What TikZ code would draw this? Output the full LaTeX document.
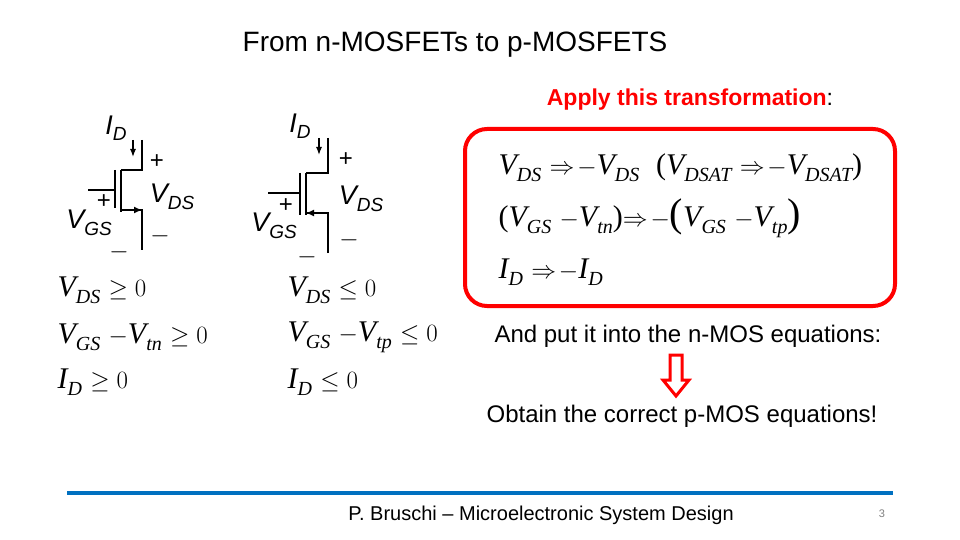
\documentclass[tikz,border=0pt]{standalone}
\usepackage{fontspec}
\setmainfont{Liberation Sans}
\newfontfamily\tms{Liberation Serif}
\usetikzlibrary{arrows.meta}
\definecolor{bl}{RGB}{0,112,192}
\newcommand\vv[2]{{\tms\itshape #1}\raisebox{-.45ex}{\tms\itshape\fontsize{20}{20}\selectfont #2}}
\newcommand\sv[2]{{\itshape #1}\raisebox{-.45ex}{\itshape\fontsize{19}{19}\selectfont #2}}
\begin{document}
\begin{tikzpicture}[x=1pt,y=-1pt,
  wire/.style={line width=1.3pt},
  eq/.style={anchor=west,font=\fontsize{30}{30}\selectfont},
  lab/.style={font=\fontsize{27}{27}\selectfont},
  sg/.style={font=\fontsize{24}{24}\selectfont}]
\useasboundingbox (0,0) rectangle (960,540);
\node[font=\fontsize{28}{28}\selectfont] (title) at (455,45) {From n-MOSFETs to p-MOSFETS};
% left nMOS
\draw[wire] (88,190) -- (115,190);
\draw[wire] (115,170) -- (115,208);
\draw[wire] (121,170) -- (121,212);
\draw[wire] (142,140) -- (142,170) -- (121,170);
\draw[wire] (121,210) -- (142,210) -- (142,250);
\draw[-{Latex[length=8pt,width=7pt]},line width=1.3pt] (121,210) -- (142,210);
\draw[-{Latex[length=8pt,width=6pt]},wire] (133,140) -- (133,157);
\node[lab] (id1) at (116,128) {\sv{I}{D}};
\node[sg] (p1) at (157,162) {+};
\node[lab] (vds1) at (172,197) {\sv{V}{DS}};
\node[sg] (m1) at (160,236) {$-$};
\node[sg] (pg1) at (104,202) {+};
\node[lab] (vgs1) at (89,223) {\sv{V}{GS}};
\node[sg] (mg1) at (119,252) {$-$};
% right pMOS
\draw[wire] (268,193) -- (300,193);
\draw[wire] (300,173) -- (300,215);
\draw[wire] (306,173) -- (306,215);
\draw[wire] (328,138) -- (328,173) -- (306,173);
\draw[wire] (328,253) -- (328,213) -- (306,213);
\draw[-{Latex[length=8pt,width=7pt]},line width=1.3pt] (326,213) -- (306,213);
\draw[-{Latex[length=8pt,width=6pt]},wire] (319,138) -- (319,155);
\node[lab] (id2) at (300,126) {\sv{I}{D}};
\node[sg] (p2) at (346,160) {+};
\node[lab] (vds2) at (361,199) {\sv{V}{DS}};
\node[sg] (m2) at (349,240) {$-$};
\node[sg] (pg2) at (286,206) {+};
\node[lab] (vgs2) at (274,226) {\sv{V}{GS}};
\node[sg] (mg2) at (307,257) {$-$};
% left equations
\node[eq] (l1) at (54,290) {\vv{V}{DS} $\geq 0$};
\node[eq] (l2) at (54,337) {\vv{V}{GS} $-$\vv{V}{tn} $\geq 0$};
\node[eq] (l3) at (54,382) {\vv{I}{D} $\geq 0$};
\node[eq] (r1) at (284,290) {\vv{V}{DS} $\leq 0$};
\node[eq] (r2) at (284,337) {\vv{V}{GS} $-$\vv{V}{tp} $\leq 0$};
\node[eq] (r3) at (284,382) {\vv{I}{D} $\leq 0$};
% transformation
\node[font=\bfseries\fontsize{23}{23}\selectfont,text=red] (apply) at (690,100) {Apply this transformation\textcolor{black}{\mdseries:}};
\draw[red,line width=4pt,rounded corners=22pt] (465,129) rectangle (895,306);
\node[eq] (t1) at (495,168) {\vv{V}{DS} $\Rightarrow\!-$\vv{V}{DS}\ \ {\tms(}\vv{V}{DSAT} $\Rightarrow\!-$\vv{V}{DSAT}{\tms)}};
\node[eq] (t2) at (495,218) {{\tms(}\vv{V}{GS} $-$\vv{V}{tn}{\tms)}$\Rightarrow\!-${\tms\fontsize{40}{40}\selectfont(}\vv{V}{GS} $-$\vv{V}{tp}{\tms\fontsize{40}{40}\selectfont)}};
\node[eq] (t3) at (495,272) {\vv{I}{D} $\Rightarrow\!-$\vv{I}{D}};
\node[font=\fontsize{24}{24}\selectfont] (put) at (688,336) {And put it into the n-MOS equations:};
\draw[red,line width=3pt] (670,355) -- (682,355) -- (682,380) -- (689,380) -- (676,396) -- (663,380) -- (670,380) -- cycle;
\node[font=\fontsize{24}{24}\selectfont] (obt) at (682,416) {Obtain the correct p-MOS equations!};
\draw[bl,line width=4pt] (67,493) -- (893,493);
\node[font=\fontsize{20}{20}\selectfont] (foot) at (541,515) {P. Bruschi -- Microelectronic System Design};
\node[font=\fontsize{11}{11}\selectfont,text=gray] (num) at (882,514) {3};
\end{tikzpicture}
\end{document}
